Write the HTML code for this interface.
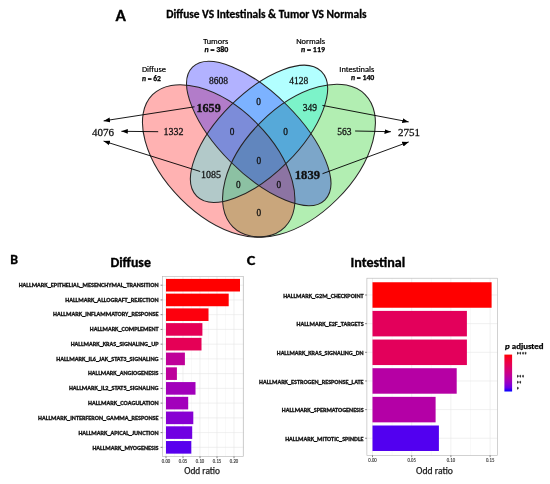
<!DOCTYPE html>
<html><head><meta charset="utf-8"><title>Figure</title>
<style>html,body{margin:0;padding:0;background:#fff;}svg{display:block;}</style></head>
<body>
<svg width="550" height="484" viewBox="0 0 550 484">
<defs><marker id="ah" viewBox="0 0 10 10" refX="10" refY="5" markerWidth="6.4" markerHeight="6.4" markerUnits="userSpaceOnUse" orient="auto"><path d="M0,1.2 L10,5 L0,8.8 z" fill="#000"/></marker></defs>
<rect width="550" height="484" fill="#fff"/>
<ellipse cx="298.99" cy="160.66" rx="93.51" ry="54.22" transform="rotate(-45 298.99 160.66)" fill="#00C800" fill-opacity="0.3" stroke="none" stroke-width="0"/>
<ellipse cx="218.69" cy="160.91" rx="93.57" ry="53.58" transform="rotate(45 218.69 160.91)" fill="#FF0000" fill-opacity="0.3" stroke="none" stroke-width="0"/>
<ellipse cx="259.02" cy="133.83" rx="88.16" ry="40.12" transform="rotate(-45 259.02 133.83)" fill="#00FFFF" fill-opacity="0.3" stroke="none" stroke-width="0"/>
<ellipse cx="258.76" cy="133.5" rx="93.72" ry="39.95" transform="rotate(45 258.76 133.5)" fill="#0000FF" fill-opacity="0.3" stroke="none" stroke-width="0"/>
<ellipse cx="298.99" cy="160.66" rx="93.51" ry="54.22" transform="rotate(-45 298.99 160.66)" fill="none" fill-opacity="0" stroke="#262424" stroke-width="1.05"/>
<ellipse cx="218.69" cy="160.91" rx="93.57" ry="53.58" transform="rotate(45 218.69 160.91)" fill="none" fill-opacity="0" stroke="#262424" stroke-width="1.05"/>
<ellipse cx="259.02" cy="133.83" rx="88.16" ry="40.12" transform="rotate(-45 259.02 133.83)" fill="none" fill-opacity="0" stroke="#262424" stroke-width="1.05"/>
<ellipse cx="258.76" cy="133.5" rx="93.72" ry="39.95" transform="rotate(45 258.76 133.5)" fill="none" fill-opacity="0" stroke="#262424" stroke-width="1.05"/>
<line x1="194.5" y1="106.8" x2="103.6" y2="120.9" stroke="#000" stroke-width="0.9" marker-end="url(#ah)"/>
<line x1="158.2" y1="131.7" x2="121.4" y2="131.3" stroke="#000" stroke-width="0.9" marker-end="url(#ah)"/>
<line x1="200.2" y1="171.5" x2="103.6" y2="141.1" stroke="#000" stroke-width="0.9" marker-end="url(#ah)"/>
<line x1="322.4" y1="105.4" x2="408.7" y2="121.9" stroke="#000" stroke-width="0.9" marker-end="url(#ah)"/>
<line x1="355.1" y1="131.0" x2="390.9" y2="131.7" stroke="#000" stroke-width="0.9" marker-end="url(#ah)"/>
<line x1="322.5" y1="173.7" x2="408.7" y2="141.9" stroke="#000" stroke-width="0.9" marker-end="url(#ah)"/>
<text x="218.4" y="83.6" font-size="9.5" font-family="&quot;Liberation Serif&quot;, serif" font-weight="normal" text-anchor="middle" fill="#111" stroke="#111" stroke-width="0.26">8608</text>
<text x="298.8" y="83.7" font-size="9.5" font-family="&quot;Liberation Serif&quot;, serif" font-weight="normal" text-anchor="middle" fill="#111" stroke="#111" stroke-width="0.26">4128</text>
<text x="208.6" y="111.5" font-size="13.3" font-family="&quot;Liberation Serif&quot;, serif" font-weight="bold" text-anchor="middle" fill="#111" textLength="24.2" lengthAdjust="spacingAndGlyphs" stroke="#111" stroke-width="0.35">1659</text>
<text x="173.6" y="135.4" font-size="10" font-family="&quot;Liberation Serif&quot;, serif" font-weight="normal" text-anchor="middle" fill="#111" stroke="#111" stroke-width="0.26">1332</text>
<text x="103.1" y="135.6" font-size="11" font-family="&quot;Liberation Serif&quot;, serif" font-weight="normal" text-anchor="middle" fill="#111" stroke="#111" stroke-width="0.26">4076</text>
<text x="409.1" y="135.9" font-size="11" font-family="&quot;Liberation Serif&quot;, serif" font-weight="normal" text-anchor="middle" fill="#111" stroke="#111" stroke-width="0.26">2751</text>
<text x="309.8" y="110.8" font-size="9.5" font-family="&quot;Liberation Serif&quot;, serif" font-weight="normal" text-anchor="middle" fill="#111" stroke="#111" stroke-width="0.26">349</text>
<text x="344.4" y="134.8" font-size="9.5" font-family="&quot;Liberation Serif&quot;, serif" font-weight="normal" text-anchor="middle" fill="#111" stroke="#111" stroke-width="0.26">563</text>
<text x="307.4" y="178.6" font-size="13.3" font-family="&quot;Liberation Serif&quot;, serif" font-weight="bold" text-anchor="middle" fill="#111" textLength="25.2" lengthAdjust="spacingAndGlyphs" stroke="#111" stroke-width="0.35">1839</text>
<text x="211" y="177.9" font-size="10" font-family="&quot;Liberation Serif&quot;, serif" font-weight="normal" text-anchor="middle" fill="#111" stroke="#111" stroke-width="0.26">1085</text>
<text x="258.6" y="104.8" font-size="9.3" font-family="&quot;Liberation Serif&quot;, serif" font-weight="normal" text-anchor="middle" fill="#111" stroke="#111" stroke-width="0.26">0</text>
<text x="232.1" y="134.5" font-size="9.3" font-family="&quot;Liberation Serif&quot;, serif" font-weight="normal" text-anchor="middle" fill="#111" stroke="#111" stroke-width="0.26">0</text>
<text x="285.5" y="134.7" font-size="9.3" font-family="&quot;Liberation Serif&quot;, serif" font-weight="normal" text-anchor="middle" fill="#111" stroke="#111" stroke-width="0.26">0</text>
<text x="258.9" y="163.9" font-size="9.3" font-family="&quot;Liberation Serif&quot;, serif" font-weight="normal" text-anchor="middle" fill="#111" stroke="#111" stroke-width="0.26">0</text>
<text x="238.3" y="188.4" font-size="9.3" font-family="&quot;Liberation Serif&quot;, serif" font-weight="normal" text-anchor="middle" fill="#111" stroke="#111" stroke-width="0.26">0</text>
<text x="278.9" y="188.4" font-size="9.3" font-family="&quot;Liberation Serif&quot;, serif" font-weight="normal" text-anchor="middle" fill="#111" stroke="#111" stroke-width="0.26">0</text>
<text x="258.8" y="215.7" font-size="9.3" font-family="&quot;Liberation Serif&quot;, serif" font-weight="normal" text-anchor="middle" fill="#111" stroke="#111" stroke-width="0.26">0</text>
<text x="115.6" y="20.8" font-size="15.5" font-family="Carlito, &quot;Liberation Sans&quot;, sans-serif" font-weight="bold" text-anchor="start" fill="#000" textLength="10.4" lengthAdjust="spacingAndGlyphs" stroke="#000" stroke-width="0.3">A</text>
<text x="166.3" y="18.3" font-size="11.8" font-family="Carlito, &quot;Liberation Sans&quot;, sans-serif" font-weight="bold" text-anchor="start" fill="#000" textLength="200.2" lengthAdjust="spacingAndGlyphs" stroke="#000" stroke-width="0.3">Diffuse VS Intestinals &amp; Tumor VS Normals</text>
<text x="141.9" y="71.8" font-size="8.4" font-family="Carlito, &quot;Liberation Sans&quot;, sans-serif" font-weight="normal" text-anchor="start" fill="#000" textLength="24" lengthAdjust="spacingAndGlyphs" stroke="#000" stroke-width="0.2">Diffuse</text>
<text x="141.9" y="80.5" font-size="8.2" font-family="Carlito, &quot;Liberation Sans&quot;, sans-serif" font-weight="bold" stroke="#000" stroke-width="0.25" text-anchor="start" textLength="19.1" lengthAdjust="spacingAndGlyphs"><tspan font-style="italic">n</tspan> = 62</text>
<text x="228.2" y="43.8" font-size="8.4" font-family="Carlito, &quot;Liberation Sans&quot;, sans-serif" font-weight="normal" text-anchor="end" fill="#000" textLength="25" lengthAdjust="spacingAndGlyphs" stroke="#000" stroke-width="0.2">Tumors</text>
<text x="228.2" y="52.0" font-size="8.2" font-family="Carlito, &quot;Liberation Sans&quot;, sans-serif" font-weight="bold" stroke="#000" stroke-width="0.25" text-anchor="end" textLength="23.7" lengthAdjust="spacingAndGlyphs"><tspan font-style="italic">n</tspan> = 380</text>
<text x="325" y="44.4" font-size="8.4" font-family="Carlito, &quot;Liberation Sans&quot;, sans-serif" font-weight="normal" text-anchor="end" fill="#000" textLength="28.8" lengthAdjust="spacingAndGlyphs" stroke="#000" stroke-width="0.2">Normals</text>
<text x="325" y="52.0" font-size="8.2" font-family="Carlito, &quot;Liberation Sans&quot;, sans-serif" font-weight="bold" stroke="#000" stroke-width="0.25" text-anchor="end" textLength="23.9" lengthAdjust="spacingAndGlyphs"><tspan font-style="italic">n</tspan> = 119</text>
<text x="374.3" y="71.8" font-size="8.4" font-family="Carlito, &quot;Liberation Sans&quot;, sans-serif" font-weight="normal" text-anchor="end" fill="#000" textLength="35" lengthAdjust="spacingAndGlyphs" stroke="#000" stroke-width="0.2">Intestinals</text>
<text x="374.3" y="80.2" font-size="8.2" font-family="Carlito, &quot;Liberation Sans&quot;, sans-serif" font-weight="bold" stroke="#000" stroke-width="0.25" text-anchor="end" textLength="23.4" lengthAdjust="spacingAndGlyphs"><tspan font-style="italic">n</tspan> = 140</text>
<text x="10.3" y="264.4" font-size="14.5" font-family="Carlito, &quot;Liberation Sans&quot;, sans-serif" font-weight="bold" text-anchor="start" fill="#000" textLength="7.8" lengthAdjust="spacingAndGlyphs" stroke="#000" stroke-width="0.3">B</text>
<text x="110.4" y="267.3" font-size="14.5" font-family="Carlito, &quot;Liberation Sans&quot;, sans-serif" font-weight="bold" text-anchor="start" fill="#000" textLength="40.5" lengthAdjust="spacingAndGlyphs" stroke="#000" stroke-width="0.35">Diffuse</text>
<text x="246.8" y="264.6" font-size="14.5" font-family="Carlito, &quot;Liberation Sans&quot;, sans-serif" font-weight="bold" text-anchor="start" fill="#000" textLength="8.6" lengthAdjust="spacingAndGlyphs" stroke="#000" stroke-width="0.3">C</text>
<text x="350.6" y="267.3" font-size="14.5" font-family="Carlito, &quot;Liberation Sans&quot;, sans-serif" font-weight="bold" text-anchor="start" fill="#000" textLength="54.7" lengthAdjust="spacingAndGlyphs" stroke="#000" stroke-width="0.35">Intestinal</text>
<rect x="162.4" y="276.4" width="81.19999999999999" height="180.0" fill="#fff"/>
<line x1="174.50" y1="276.4" x2="174.50" y2="456.4" stroke="#EDEDED" stroke-width="0.35"/>
<line x1="191.50" y1="276.4" x2="191.50" y2="456.4" stroke="#EDEDED" stroke-width="0.35"/>
<line x1="208.50" y1="276.4" x2="208.50" y2="456.4" stroke="#EDEDED" stroke-width="0.35"/>
<line x1="225.50" y1="276.4" x2="225.50" y2="456.4" stroke="#EDEDED" stroke-width="0.35"/>
<line x1="242.50" y1="276.4" x2="242.50" y2="456.4" stroke="#EDEDED" stroke-width="0.35"/>
<line x1="166.00" y1="276.4" x2="166.00" y2="456.4" stroke="#E6E6E6" stroke-width="0.6"/>
<line x1="183.00" y1="276.4" x2="183.00" y2="456.4" stroke="#E6E6E6" stroke-width="0.6"/>
<line x1="200.00" y1="276.4" x2="200.00" y2="456.4" stroke="#E6E6E6" stroke-width="0.6"/>
<line x1="217.00" y1="276.4" x2="217.00" y2="456.4" stroke="#E6E6E6" stroke-width="0.6"/>
<line x1="234.00" y1="276.4" x2="234.00" y2="456.4" stroke="#E6E6E6" stroke-width="0.6"/>
<line x1="162.4" y1="285.20" x2="243.6" y2="285.20" stroke="#E6E6E6" stroke-width="0.6"/>
<line x1="162.4" y1="299.94" x2="243.6" y2="299.94" stroke="#E6E6E6" stroke-width="0.6"/>
<line x1="162.4" y1="314.68" x2="243.6" y2="314.68" stroke="#E6E6E6" stroke-width="0.6"/>
<line x1="162.4" y1="329.42" x2="243.6" y2="329.42" stroke="#E6E6E6" stroke-width="0.6"/>
<line x1="162.4" y1="344.16" x2="243.6" y2="344.16" stroke="#E6E6E6" stroke-width="0.6"/>
<line x1="162.4" y1="358.90" x2="243.6" y2="358.90" stroke="#E6E6E6" stroke-width="0.6"/>
<line x1="162.4" y1="373.64" x2="243.6" y2="373.64" stroke="#E6E6E6" stroke-width="0.6"/>
<line x1="162.4" y1="388.38" x2="243.6" y2="388.38" stroke="#E6E6E6" stroke-width="0.6"/>
<line x1="162.4" y1="403.12" x2="243.6" y2="403.12" stroke="#E6E6E6" stroke-width="0.6"/>
<line x1="162.4" y1="417.86" x2="243.6" y2="417.86" stroke="#E6E6E6" stroke-width="0.6"/>
<line x1="162.4" y1="432.60" x2="243.6" y2="432.60" stroke="#E6E6E6" stroke-width="0.6"/>
<line x1="162.4" y1="447.34" x2="243.6" y2="447.34" stroke="#E6E6E6" stroke-width="0.6"/>
<rect x="166" y="278.90" width="74.00" height="12.6" fill="#FF0000"/>
<rect x="166" y="293.64" width="62.70" height="12.6" fill="#FF0000"/>
<rect x="166" y="308.38" width="42.50" height="12.6" fill="#FD000D"/>
<rect x="166" y="323.12" width="36.40" height="12.6" fill="#E50056"/>
<rect x="166" y="337.86" width="35.50" height="12.6" fill="#E50056"/>
<rect x="166" y="352.60" width="18.90" height="12.6" fill="#BF0099"/>
<rect x="166" y="367.34" width="10.90" height="12.6" fill="#BD009B"/>
<rect x="166" y="382.08" width="29.50" height="12.6" fill="#A200BB"/>
<rect x="166" y="396.82" width="22.20" height="12.6" fill="#A200BB"/>
<rect x="166" y="411.56" width="27.30" height="12.6" fill="#8700D3"/>
<rect x="166" y="426.30" width="26.20" height="12.6" fill="#7100E2"/>
<rect x="166" y="441.04" width="25.30" height="12.6" fill="#5800EE"/>
<rect x="162.4" y="276.4" width="81.19999999999999" height="180.0" fill="none" stroke="#B3B3B3" stroke-width="0.6"/>
<line x1="160.6" y1="285.20" x2="162.4" y2="285.20" stroke="#333" stroke-width="0.6"/>
<line x1="160.6" y1="299.94" x2="162.4" y2="299.94" stroke="#333" stroke-width="0.6"/>
<line x1="160.6" y1="314.68" x2="162.4" y2="314.68" stroke="#333" stroke-width="0.6"/>
<line x1="160.6" y1="329.42" x2="162.4" y2="329.42" stroke="#333" stroke-width="0.6"/>
<line x1="160.6" y1="344.16" x2="162.4" y2="344.16" stroke="#333" stroke-width="0.6"/>
<line x1="160.6" y1="358.90" x2="162.4" y2="358.90" stroke="#333" stroke-width="0.6"/>
<line x1="160.6" y1="373.64" x2="162.4" y2="373.64" stroke="#333" stroke-width="0.6"/>
<line x1="160.6" y1="388.38" x2="162.4" y2="388.38" stroke="#333" stroke-width="0.6"/>
<line x1="160.6" y1="403.12" x2="162.4" y2="403.12" stroke="#333" stroke-width="0.6"/>
<line x1="160.6" y1="417.86" x2="162.4" y2="417.86" stroke="#333" stroke-width="0.6"/>
<line x1="160.6" y1="432.60" x2="162.4" y2="432.60" stroke="#333" stroke-width="0.6"/>
<line x1="160.6" y1="447.34" x2="162.4" y2="447.34" stroke="#333" stroke-width="0.6"/>
<line x1="166.00" y1="456.4" x2="166.00" y2="458.2" stroke="#333" stroke-width="0.6"/>
<text x="166.00" y="463.0" font-size="5.2" font-family="Carlito, &quot;Liberation Sans&quot;, sans-serif" font-weight="normal" text-anchor="middle" fill="#333" textLength="8.4" lengthAdjust="spacingAndGlyphs" stroke="#333" stroke-width="0.12">0.00</text>
<line x1="183.00" y1="456.4" x2="183.00" y2="458.2" stroke="#333" stroke-width="0.6"/>
<text x="183.00" y="463.0" font-size="5.2" font-family="Carlito, &quot;Liberation Sans&quot;, sans-serif" font-weight="normal" text-anchor="middle" fill="#333" textLength="8.4" lengthAdjust="spacingAndGlyphs" stroke="#333" stroke-width="0.12">0.05</text>
<line x1="200.00" y1="456.4" x2="200.00" y2="458.2" stroke="#333" stroke-width="0.6"/>
<text x="200.00" y="463.0" font-size="5.2" font-family="Carlito, &quot;Liberation Sans&quot;, sans-serif" font-weight="normal" text-anchor="middle" fill="#333" textLength="8.4" lengthAdjust="spacingAndGlyphs" stroke="#333" stroke-width="0.12">0.10</text>
<line x1="217.00" y1="456.4" x2="217.00" y2="458.2" stroke="#333" stroke-width="0.6"/>
<text x="217.00" y="463.0" font-size="5.2" font-family="Carlito, &quot;Liberation Sans&quot;, sans-serif" font-weight="normal" text-anchor="middle" fill="#333" textLength="8.4" lengthAdjust="spacingAndGlyphs" stroke="#333" stroke-width="0.12">0.15</text>
<line x1="234.00" y1="456.4" x2="234.00" y2="458.2" stroke="#333" stroke-width="0.6"/>
<text x="234.00" y="463.0" font-size="5.2" font-family="Carlito, &quot;Liberation Sans&quot;, sans-serif" font-weight="normal" text-anchor="middle" fill="#333" textLength="8.4" lengthAdjust="spacingAndGlyphs" stroke="#333" stroke-width="0.12">0.20</text>
<text x="158.5" y="286.80" font-size="6.8" font-family="Carlito, &quot;Liberation Sans&quot;, sans-serif" font-weight="bold" text-anchor="end" fill="#111" textLength="139.8" lengthAdjust="spacingAndGlyphs" stroke="#111" stroke-width="0.32">HALLMARK_EPITHELIAL_MESENCHYMAL_TRANSITION</text>
<text x="158.5" y="301.64" font-size="6.8" font-family="Carlito, &quot;Liberation Sans&quot;, sans-serif" font-weight="bold" text-anchor="end" fill="#111" textLength="93.2" lengthAdjust="spacingAndGlyphs" stroke="#111" stroke-width="0.32">HALLMARK_ALLOGRAFT_REJECTION</text>
<text x="158.5" y="316.38" font-size="6.8" font-family="Carlito, &quot;Liberation Sans&quot;, sans-serif" font-weight="bold" text-anchor="end" fill="#111" textLength="105.5" lengthAdjust="spacingAndGlyphs" stroke="#111" stroke-width="0.32">HALLMARK_INFLAMMATORY_RESPONSE</text>
<text x="158.5" y="331.12" font-size="6.8" font-family="Carlito, &quot;Liberation Sans&quot;, sans-serif" font-weight="bold" text-anchor="end" fill="#111" textLength="68.7" lengthAdjust="spacingAndGlyphs" stroke="#111" stroke-width="0.32">HALLMARK_COMPLEMENT</text>
<text x="158.5" y="345.86" font-size="6.8" font-family="Carlito, &quot;Liberation Sans&quot;, sans-serif" font-weight="bold" text-anchor="end" fill="#111" textLength="87.8" lengthAdjust="spacingAndGlyphs" stroke="#111" stroke-width="0.32">HALLMARK_KRAS_SIGNALING_UP</text>
<text x="158.5" y="360.65" font-size="6.8" font-family="Carlito, &quot;Liberation Sans&quot;, sans-serif" font-weight="bold" text-anchor="end" fill="#111" textLength="102.3" lengthAdjust="spacingAndGlyphs" stroke="#111" stroke-width="0.32">HALLMARK_IL6_JAK_STAT3_SIGNALING</text>
<text x="158.5" y="375.14" font-size="6.8" font-family="Carlito, &quot;Liberation Sans&quot;, sans-serif" font-weight="bold" text-anchor="end" fill="#111" textLength="70.5" lengthAdjust="spacingAndGlyphs" stroke="#111" stroke-width="0.32">HALLMARK_ANGIOGENESIS</text>
<text x="158.5" y="390.23" font-size="6.8" font-family="Carlito, &quot;Liberation Sans&quot;, sans-serif" font-weight="bold" text-anchor="end" fill="#111" textLength="89.6" lengthAdjust="spacingAndGlyphs" stroke="#111" stroke-width="0.32">HALLMARK_IL2_STAT5_SIGNALING</text>
<text x="158.5" y="404.82" font-size="6.8" font-family="Carlito, &quot;Liberation Sans&quot;, sans-serif" font-weight="bold" text-anchor="end" fill="#111" textLength="70.5" lengthAdjust="spacingAndGlyphs" stroke="#111" stroke-width="0.32">HALLMARK_COAGULATION</text>
<text x="158.5" y="420.36" font-size="6.8" font-family="Carlito, &quot;Liberation Sans&quot;, sans-serif" font-weight="bold" text-anchor="end" fill="#111" textLength="120.4" lengthAdjust="spacingAndGlyphs" stroke="#111" stroke-width="0.32">HALLMARK_INTERFERON_GAMMA_RESPONSE</text>
<text x="158.5" y="435.40" font-size="6.8" font-family="Carlito, &quot;Liberation Sans&quot;, sans-serif" font-weight="bold" text-anchor="end" fill="#111" textLength="80.1" lengthAdjust="spacingAndGlyphs" stroke="#111" stroke-width="0.32">HALLMARK_APICAL_JUNCTION</text>
<text x="158.5" y="449.84" font-size="6.8" font-family="Carlito, &quot;Liberation Sans&quot;, sans-serif" font-weight="bold" text-anchor="end" fill="#111" textLength="66.1" lengthAdjust="spacingAndGlyphs" stroke="#111" stroke-width="0.32">HALLMARK_MYOGENESIS</text>
<text x="202.1" y="474" font-size="10" font-family="Carlito, &quot;Liberation Sans&quot;, sans-serif" font-weight="normal" text-anchor="middle" fill="#1a1a1a" textLength="35.8" lengthAdjust="spacingAndGlyphs" stroke="#1a1a1a" stroke-width="0.25">Odd ratio</text>
<rect x="366.9" y="278.2" width="130.40000000000003" height="177.2" fill="#fff"/>
<line x1="392.10" y1="278.2" x2="392.10" y2="455.4" stroke="#EDEDED" stroke-width="0.35"/>
<line x1="431.30" y1="278.2" x2="431.30" y2="455.4" stroke="#EDEDED" stroke-width="0.35"/>
<line x1="470.50" y1="278.2" x2="470.50" y2="455.4" stroke="#EDEDED" stroke-width="0.35"/>
<line x1="372.50" y1="278.2" x2="372.50" y2="455.4" stroke="#E6E6E6" stroke-width="0.6"/>
<line x1="411.70" y1="278.2" x2="411.70" y2="455.4" stroke="#E6E6E6" stroke-width="0.6"/>
<line x1="450.90" y1="278.2" x2="450.90" y2="455.4" stroke="#E6E6E6" stroke-width="0.6"/>
<line x1="490.10" y1="278.2" x2="490.10" y2="455.4" stroke="#E6E6E6" stroke-width="0.6"/>
<line x1="366.9" y1="295.00" x2="497.3" y2="295.00" stroke="#E6E6E6" stroke-width="0.6"/>
<line x1="366.9" y1="323.65" x2="497.3" y2="323.65" stroke="#E6E6E6" stroke-width="0.6"/>
<line x1="366.9" y1="352.30" x2="497.3" y2="352.30" stroke="#E6E6E6" stroke-width="0.6"/>
<line x1="366.9" y1="380.95" x2="497.3" y2="380.95" stroke="#E6E6E6" stroke-width="0.6"/>
<line x1="366.9" y1="409.60" x2="497.3" y2="409.60" stroke="#E6E6E6" stroke-width="0.6"/>
<line x1="366.9" y1="438.25" x2="497.3" y2="438.25" stroke="#E6E6E6" stroke-width="0.6"/>
<rect x="372.5" y="282.25" width="119.10" height="25.5" fill="#FF0000"/>
<rect x="372.5" y="310.90" width="94.40" height="25.5" fill="#E3005B"/>
<rect x="372.5" y="339.55" width="94.40" height="25.5" fill="#E3005B"/>
<rect x="372.5" y="368.20" width="84.20" height="25.5" fill="#B600A4"/>
<rect x="372.5" y="396.85" width="63.10" height="25.5" fill="#B400A6"/>
<rect x="372.5" y="425.50" width="66.40" height="25.5" fill="#5200F0"/>
<rect x="366.9" y="278.2" width="130.40000000000003" height="177.2" fill="none" stroke="#B3B3B3" stroke-width="0.6"/>
<line x1="365.09999999999997" y1="295.00" x2="366.9" y2="295.00" stroke="#333" stroke-width="0.6"/>
<line x1="365.09999999999997" y1="323.65" x2="366.9" y2="323.65" stroke="#333" stroke-width="0.6"/>
<line x1="365.09999999999997" y1="352.30" x2="366.9" y2="352.30" stroke="#333" stroke-width="0.6"/>
<line x1="365.09999999999997" y1="380.95" x2="366.9" y2="380.95" stroke="#333" stroke-width="0.6"/>
<line x1="365.09999999999997" y1="409.60" x2="366.9" y2="409.60" stroke="#333" stroke-width="0.6"/>
<line x1="365.09999999999997" y1="438.25" x2="366.9" y2="438.25" stroke="#333" stroke-width="0.6"/>
<line x1="372.50" y1="455.4" x2="372.50" y2="457.2" stroke="#333" stroke-width="0.6"/>
<text x="372.50" y="462.0" font-size="5.2" font-family="Carlito, &quot;Liberation Sans&quot;, sans-serif" font-weight="normal" text-anchor="middle" fill="#333" textLength="8.4" lengthAdjust="spacingAndGlyphs" stroke="#333" stroke-width="0.12">0.00</text>
<line x1="411.70" y1="455.4" x2="411.70" y2="457.2" stroke="#333" stroke-width="0.6"/>
<text x="411.70" y="462.0" font-size="5.2" font-family="Carlito, &quot;Liberation Sans&quot;, sans-serif" font-weight="normal" text-anchor="middle" fill="#333" textLength="8.4" lengthAdjust="spacingAndGlyphs" stroke="#333" stroke-width="0.12">0.05</text>
<line x1="450.90" y1="455.4" x2="450.90" y2="457.2" stroke="#333" stroke-width="0.6"/>
<text x="450.90" y="462.0" font-size="5.2" font-family="Carlito, &quot;Liberation Sans&quot;, sans-serif" font-weight="normal" text-anchor="middle" fill="#333" textLength="8.4" lengthAdjust="spacingAndGlyphs" stroke="#333" stroke-width="0.12">0.10</text>
<line x1="490.10" y1="455.4" x2="490.10" y2="457.2" stroke="#333" stroke-width="0.6"/>
<text x="490.10" y="462.0" font-size="5.2" font-family="Carlito, &quot;Liberation Sans&quot;, sans-serif" font-weight="normal" text-anchor="middle" fill="#333" textLength="8.4" lengthAdjust="spacingAndGlyphs" stroke="#333" stroke-width="0.12">0.15</text>
<text x="363.6" y="297.60" font-size="6.8" font-family="Carlito, &quot;Liberation Sans&quot;, sans-serif" font-weight="bold" text-anchor="end" fill="#111" textLength="80.40000000000003" lengthAdjust="spacingAndGlyphs" stroke="#111" stroke-width="0.32">HALLMARK_G2M_CHECKPOINT</text>
<text x="363.6" y="326.25" font-size="6.8" font-family="Carlito, &quot;Liberation Sans&quot;, sans-serif" font-weight="bold" text-anchor="end" fill="#111" textLength="67.10000000000002" lengthAdjust="spacingAndGlyphs" stroke="#111" stroke-width="0.32">HALLMARK_E2F_TARGETS</text>
<text x="363.6" y="354.90" font-size="6.8" font-family="Carlito, &quot;Liberation Sans&quot;, sans-serif" font-weight="bold" text-anchor="end" fill="#111" textLength="86.80000000000001" lengthAdjust="spacingAndGlyphs" stroke="#111" stroke-width="0.32">HALLMARK_KRAS_SIGNALING_DN</text>
<text x="363.6" y="383.55" font-size="6.8" font-family="Carlito, &quot;Liberation Sans&quot;, sans-serif" font-weight="bold" text-anchor="end" fill="#111" textLength="104.5" lengthAdjust="spacingAndGlyphs" stroke="#111" stroke-width="0.32">HALLMARK_ESTROGEN_RESPONSE_LATE</text>
<text x="363.6" y="412.20" font-size="6.8" font-family="Carlito, &quot;Liberation Sans&quot;, sans-serif" font-weight="bold" text-anchor="end" fill="#111" textLength="81.80000000000001" lengthAdjust="spacingAndGlyphs" stroke="#111" stroke-width="0.32">HALLMARK_SPERMATOGENESIS</text>
<text x="363.6" y="440.85" font-size="6.8" font-family="Carlito, &quot;Liberation Sans&quot;, sans-serif" font-weight="bold" text-anchor="end" fill="#111" textLength="78.40000000000003" lengthAdjust="spacingAndGlyphs" stroke="#111" stroke-width="0.32">HALLMARK_MITOTIC_SPINDLE</text>
<text x="434.5" y="474.2" font-size="10" font-family="Carlito, &quot;Liberation Sans&quot;, sans-serif" font-weight="normal" text-anchor="middle" fill="#1a1a1a" textLength="36.9" lengthAdjust="spacingAndGlyphs" stroke="#1a1a1a" stroke-width="0.25">Odd ratio</text>
<text x="505.1" y="348.8" font-size="8.5" font-family="Carlito, &quot;Liberation Sans&quot;, sans-serif" font-weight="bold" stroke="#000" stroke-width="0.25" textLength="38.4" lengthAdjust="spacingAndGlyphs"><tspan font-style="italic">p</tspan> adjusted</text>
<linearGradient id="lg" x1="0" y1="0" x2="0" y2="1"><stop offset="0.00" stop-color="#FF0000"/><stop offset="0.10" stop-color="#F6002A"/><stop offset="0.20" stop-color="#ED0044"/><stop offset="0.30" stop-color="#E3005B"/><stop offset="0.40" stop-color="#D70072"/><stop offset="0.50" stop-color="#CA0088"/><stop offset="0.60" stop-color="#BA009F"/><stop offset="0.70" stop-color="#A600B7"/><stop offset="0.80" stop-color="#8D00CE"/><stop offset="0.90" stop-color="#6800E7"/><stop offset="1.00" stop-color="#0000FF"/></linearGradient>
<rect x="504.4" y="354.6" width="7.7" height="36.9" fill="url(#lg)"/>
<text x="516.5" y="358.0" font-size="8.5" font-family="Carlito, &quot;Liberation Sans&quot;, sans-serif" font-weight="normal" text-anchor="start" fill="#222" textLength="10.4" lengthAdjust="spacingAndGlyphs" stroke="#222" stroke-width="0.3">****</text>
<text x="516.5" y="380.5" font-size="8.5" font-family="Carlito, &quot;Liberation Sans&quot;, sans-serif" font-weight="normal" text-anchor="start" fill="#222" textLength="7.8" lengthAdjust="spacingAndGlyphs" stroke="#222" stroke-width="0.3">***</text>
<text x="516.5" y="387.09999999999997" font-size="8.5" font-family="Carlito, &quot;Liberation Sans&quot;, sans-serif" font-weight="normal" text-anchor="start" fill="#222" textLength="5.2" lengthAdjust="spacingAndGlyphs" stroke="#222" stroke-width="0.3">**</text>
<text x="516.5" y="392.79999999999995" font-size="8.5" font-family="Carlito, &quot;Liberation Sans&quot;, sans-serif" font-weight="normal" text-anchor="start" fill="#222" textLength="2.6" lengthAdjust="spacingAndGlyphs" stroke="#222" stroke-width="0.3">*</text>
</svg>
</body></html>
